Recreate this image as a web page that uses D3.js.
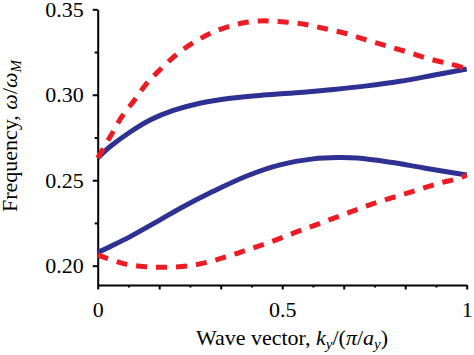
<!DOCTYPE html>
<html>
<head>
<meta charset="utf-8">
<script src="https://cdn.jsdelivr.net/npm/d3@7/dist/d3.min.js"></script>
<style>
  html, body { margin: 0; padding: 0; background: #fff; }
  svg { display: block; }
  text { font-family: "Liberation Serif", "Times New Roman", serif; fill: #000; }
</style>
</head>
<body>
<svg id="chart" width="474" height="355"></svg>
<script>
// ---- data ----
const redUpperK = [0, 0.034, 0.065, 0.1, 0.133, 0.173, 0.218, 0.268, 0.322, 0.381, 0.44, 0.499, 0.557, 0.611, 0.67, 0.729, 0.784, 0.841, 0.9, 0.959, 1];
const redUpperW = [0.263, 0.2755, 0.287, 0.297, 0.3067, 0.3155, 0.3243, 0.3316, 0.3375, 0.3414, 0.3432, 0.3427, 0.3414, 0.3389, 0.336, 0.332, 0.3285, 0.3249, 0.3209, 0.3178, 0.3152];

const blueUpperK = [0, 0.034, 0.088, 0.142, 0.205, 0.277, 0.359, 0.449, 0.557, 0.638, 0.729, 0.819, 0.909, 1];
const blueUpperW = [0.263, 0.2697, 0.2782, 0.2852, 0.2908, 0.2950, 0.2979, 0.2998, 0.3015, 0.3031, 0.3052, 0.3079, 0.3114, 0.3151];

const blueLowerK = [0, 0.04, 0.088, 0.169, 0.224, 0.313, 0.404, 0.494, 0.584, 0.65, 0.704, 0.794, 0.884, 1];
const blueLowerW = [0.2077, 0.2118, 0.217, 0.2268, 0.2336, 0.2435, 0.2525, 0.2590, 0.2625, 0.2633, 0.2630, 0.2605, 0.2572, 0.2531];

const redLowerK = [0, 0.065, 0.124, 0.182, 0.246, 0.304, 0.359, 0.413, 0.471, 0.53, 0.584, 0.64, 0.695, 0.749, 0.808, 0.866, 0.925, 0.979, 1];
const redLowerW = [0.2063, 0.2015, 0.1995, 0.1991, 0.1999, 0.2024, 0.2059, 0.2098, 0.2141, 0.219, 0.2233, 0.2278, 0.2322, 0.2365, 0.2404, 0.2443, 0.2482, 0.2512, 0.2531];

const xMajorTicks = [0, 0.5, 1];
const xMidTicks = [0, 1/6, 2/6, 3/6, 4/6, 5/6, 1];
const xMinorTicks = [1/12, 3/12, 5/12, 7/12, 9/12, 11/12];
const yMajorTicks = [0.20, 0.25, 0.30, 0.35];
const yMinorTicks = [0.225, 0.275, 0.325];

// ---- layout ----
const FONT = "'Liberation Serif', 'Times New Roman', serif";
const svg = d3.select("#chart");
const x = d3.scaleLinear().domain([0, 1]).range([97.7, 466.7]);
const y = d3.scaleLinear().domain([0.1887, 0.35]).range([285, 9.3]);

const BLUE = "#2e3192";
const RED = "#ec1c24";

// ---- axes ----
const gx = svg.append("g").attr("transform", `translate(0,${y.range()[0]})`);
gx.call(d3.axisBottom(x).tickValues(xMinorTicks).tickSize(2.5).tickFormat(""));
gx.call(g => g.select(".domain").remove());
const gx2 = svg.append("g").attr("transform", `translate(0,${y.range()[0]})`);
gx2.call(d3.axisBottom(x).tickValues(xMidTicks).tickSize(4.5).tickSizeOuter(0).tickFormat(""));
const gx3 = svg.append("g").attr("transform", `translate(0,${y.range()[0]})`);
gx3.call(d3.axisBottom(x).tickValues(xMajorTicks).tickSize(0).tickPadding(16).tickFormat(d => String(d)));
gx3.call(g => g.select(".domain").remove());

const gy = svg.append("g").attr("transform", `translate(${x.range()[0]},0)`);
gy.call(d3.axisLeft(y).tickValues(yMinorTicks).tickSize(3).tickFormat(""));
gy.call(g => g.select(".domain").remove());
const gy2 = svg.append("g").attr("transform", `translate(${x.range()[0]},0)`);
gy2.call(d3.axisLeft(y).tickValues(yMajorTicks).tickSize(5).tickSizeOuter(0).tickPadding(9).tickFormat(d3.format(".2f")));

svg.selectAll("g").attr("font-family", FONT);
svg.selectAll(".domain").attr("stroke", "#000").attr("stroke-width", 2);
svg.selectAll(".tick line").attr("stroke", "#000").attr("stroke-width", 2);
svg.selectAll(".tick text").style("font-family", FONT).attr("font-size", 22).attr("fill", "#000");

// ---- curves ----
const line = d3.line().x(d => x(d[0])).y(d => y(d[1])).curve(d3.curveCatmullRom.alpha(0.5));
const zip = (a, b) => a.map((v, i) => [v, b[i]]);

const series = [
  { k: blueUpperK, w: blueUpperW, color: BLUE, dash: null },
  { k: blueLowerK, w: blueLowerW, color: BLUE, dash: null },
  { k: redUpperK, w: redUpperW, color: RED, dash: "11,9" },
  { k: redLowerK, w: redLowerW, color: RED, dash: "11,9" }
];
svg.append("g").selectAll("path").data(series).join("path")
  .attr("d", s => line(zip(s.k, s.w)))
  .attr("fill", "none")
  .attr("stroke", s => s.color)
  .attr("stroke-width", 5)
  .attr("stroke-dasharray", s => s.dash);

// ---- axis titles ----
const xt = svg.append("text").attr("x", 292).attr("y", 345).attr("text-anchor", "middle").attr("font-size", 22).style("font-family", FONT);
xt.append("tspan").text("Wave vector, ");
xt.append("tspan").attr("font-style", "italic").text("k");
xt.append("tspan").attr("font-style", "italic").attr("font-size", 15).attr("dy", 4).text("y");
xt.append("tspan").attr("dy", -4).text("/(");
xt.append("tspan").attr("font-style", "italic").text("π");
xt.append("tspan").text("/");
xt.append("tspan").attr("font-style", "italic").text("a");
xt.append("tspan").attr("font-style", "italic").attr("font-size", 15).attr("dy", 4).text("y");
xt.append("tspan").attr("dy", -4).text(")");

const yt = svg.append("text").attr("transform", "translate(17,136) rotate(-90)").attr("text-anchor", "middle").attr("font-size", 22).style("font-family", FONT);
yt.append("tspan").text("Frequency, ");
yt.append("tspan").attr("font-style", "italic").text("ω");
yt.append("tspan").text("/");
yt.append("tspan").attr("font-style", "italic").text("ω");
yt.append("tspan").attr("font-style", "italic").attr("font-size", 15).attr("dy", 4).text("M");
</script>
</body>
</html>
